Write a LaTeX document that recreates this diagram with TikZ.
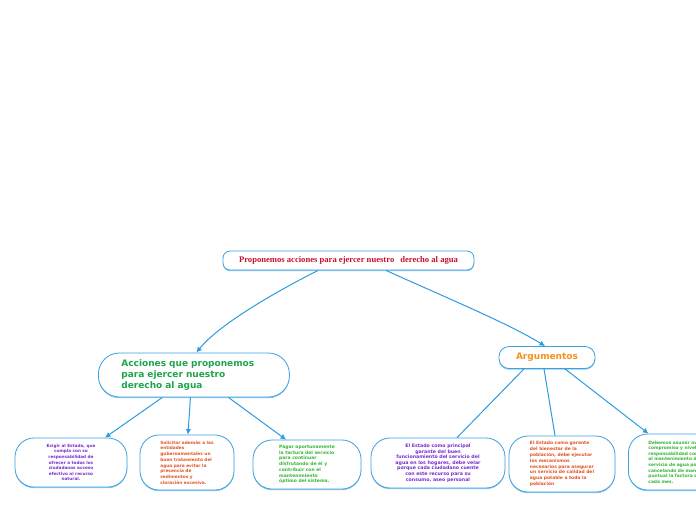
\documentclass[tikz,border=0pt]{standalone}
\usepackage{fontspec}
\setmainfont{DejaVu Sans}
\newfontfamily\serifbold{Liberation Serif}
\usetikzlibrary{arrows.meta,shadows}
\definecolor{lineblue}{RGB}{45,155,225}
\definecolor{boxblue}{RGB}{60,160,225}
\definecolor{shadowblue}{RGB}{140,200,240}
\definecolor{rootred}{RGB}{200,16,46}
\definecolor{tgreen}{RGB}{30,165,75}
\definecolor{lgreen}{RGB}{55,180,55}
\definecolor{torange}{RGB}{245,145,30}
\definecolor{lorange}{RGB}{225,85,35}
\definecolor{lpurple}{RGB}{120,45,205}
\tikzset{
  bx/.style={draw=boxblue, line width=0.8pt, fill=white, inner sep=0pt,
    drop shadow={shadow xshift=0pt,shadow yshift=-1.2pt,fill=shadowblue,opacity=1}},
  conn/.style={draw=lineblue, line width=1pt},
  arr/.style={conn, -{Latex[length=5.5pt,width=5.5pt]}},
  leaf/.style={bx, rounded corners=19pt},
}
\begin{document}
\begin{tikzpicture}[x=1pt,y=-1pt]
\useasboundingbox (0,0) rectangle (696,520);
\fill[white] (0,0) rectangle (696,520);
\clip (0,0) rectangle (696,520);

\node[bx, rounded corners=7pt, minimum width=251pt, minimum height=19pt,
  font=\serifbold\bfseries\fontsize{8.6}{9.5}\selectfont, text=rootred] (root) at (348.5,260.5)
  {Proponemos acciones para ejercer nuestro\hspace{6pt}derecho al agua};

\node[bx, rounded corners=21pt, minimum height=44pt, text width=145pt, inner xsep=23pt,
  align=left, anchor=west, font=\bfseries\fontsize{9}{11}\selectfont, text=tgreen] (acc) at (98,375)
  {Acciones que proponemos\\para ejercer nuestro\\derecho al agua};

\node[bx, rounded corners=10pt, minimum width=96pt, minimum height=22pt,
  font=\bfseries\fontsize{9}{11}\selectfont, text=torange] (arg) at (547,357.5) {Argumentos};

\node[leaf, minimum width=112pt, minimum height=49pt, align=center,
  font=\bfseries\fontsize{4.2}{5.6}\selectfont, text=lpurple] (l1) at (71,462.5)
  {Exigir al Estado, que\\cumpla con su\\responsabilidad de\\ofrecer a todos los\\ciudadanos acceso\\efectivo al recurso\\natural.};

\node[leaf, minimum width=94pt, minimum height=55pt, align=left,
  font=\bfseries\fontsize{4.3}{5.7}\selectfont, text=lorange] (l2) at (187,462.5)
  {Solicitar además a las\\entidades\\gubernamentales un\\buen tratamiento del\\agua para evitar la\\presencia de\\sedimentos y\\cloración excesiva.};

\node[leaf, minimum width=108pt, minimum height=49pt, align=left,
  font=\bfseries\fontsize{4.5}{5.7}\selectfont, text=lgreen] (l3) at (307,464.5)
  {Pagar oportunamente\\la factura del servicio\\para continuar\\disfrutando de él y\\contribuir con el\\mantenimiento\\óptimo del sistema.};

\node[leaf, minimum width=134pt, minimum height=50pt, align=center,
  font=\bfseries\fontsize{4.7}{5.6}\selectfont, text=lpurple] (l4) at (438,463)
  {El Estado como principal\\garante del buen\\funcionamiento del servicio del\\agua en los hogares, debe velar\\porque cada ciudadano cuente\\con este recurso para su\\consumo, aseo personal};

\node[leaf, minimum width=106pt, minimum height=56pt, align=left,
  font=\bfseries\fontsize{4.45}{5.8}\selectfont, text=lorange] (l5) at (562,464)
  {El Estado como garante\\del bienestar de la\\población, debe ejecutar\\los mecanismos\\necesarios para asegurar\\un servicio de calidad del\\agua potable a toda la\\población};

\node[leaf, minimum height=56pt, text width=68pt, inner xsep=20pt, align=left, anchor=west,
  font=\bfseries\fontsize{4.4}{5.6}\selectfont, text=lgreen] (l6) at (628,462)
  {Debemos asumir nuestro\\compromiso y nivel de\\responsabilidad con\\al mantenimiento del\\servicio de agua potable\\cancelando de manera\\puntual la factura de\\cada mes.};

\draw[arr] ([xshift=-30.5pt]root.south) .. controls +(-55,28) and +(20,-25) .. ([xshift=2.5pt]acc.north);
\draw[arr] ([xshift=37.5pt]root.south) .. controls +(55,25) and +(-35,-22) .. ([xshift=-2pt]arg.north);

\draw[arr] ([xshift=-31.5pt]acc.south) -- ([xshift=34pt]l1.north);
\draw[arr] ([xshift=-3.5pt]acc.south) -- ([xshift=1pt]l2.north);
\draw[arr] ([xshift=34.5pt]acc.south) -- ([xshift=-21pt]l3.north);

\draw[conn] ([xshift=-23pt]arg.south) -- ([xshift=19pt]l4.north);
\draw[conn] ([xshift=-3pt]arg.south) -- ([xshift=-7pt]l5.north);
\draw[arr] ([xshift=18pt]arg.south) -- ([xshift=-34pt]l6.north);
\end{tikzpicture}
\end{document}
